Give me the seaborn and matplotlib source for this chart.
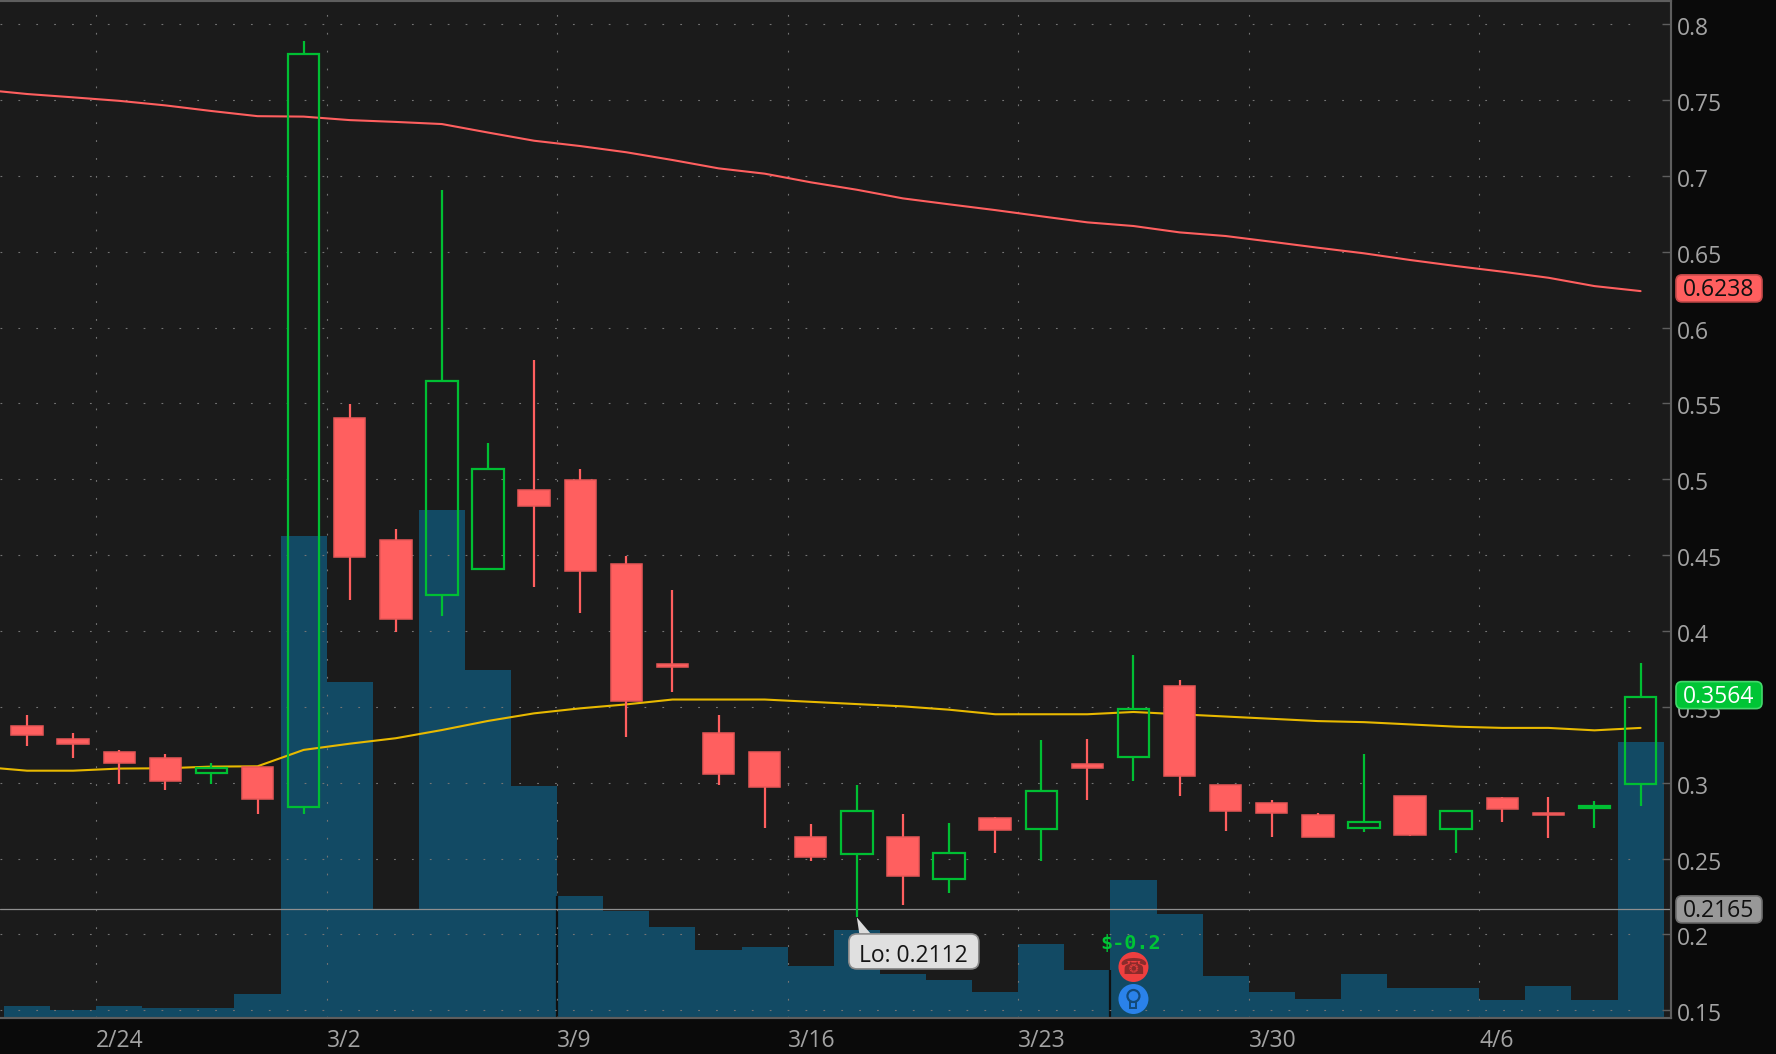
import numpy as np
import pandas as pd
import matplotlib
matplotlib.use("Agg")
import matplotlib.pyplot as plt
import seaborn as sns
from matplotlib.patches import Circle, FancyBboxPatch, Polygon, Rectangle
from matplotlib.transforms import IdentityTransform, ScaledTranslation

# daily candles
candle_up = [0, 0, 0, 0, 1, 0, 1, 0, 0, 1, 1, 0, 0, 0, 0, 0, 0, 0, 1, 0, 1, 0, 1, 0, 1, 0, 0, 0, 0, 1, 0, 1, 0, 0, 1, 1]
highs = [0.3446, 0.3330, 0.3215, 0.3189, 0.3132, 0.3104, 0.7890, 0.5496, 0.4672, 0.6906, 0.5239, 0.5786,
         0.5067, 0.4494, 0.4270, 0.3448, 0.3202, 0.2725, 0.2985, 0.2794, 0.2735, 0.2777, 0.3284, 0.3291,
         0.3844, 0.3680, 0.2985, 0.2889, 0.2800, 0.3189, 0.2913, 0.2814, 0.2903, 0.2908, 0.2882, 0.3791]
body_top = [0.3375, 0.3286, 0.3204, 0.3165, 0.3097, 0.3104, 0.7802, 0.5403, 0.4600, 0.5650, 0.5067, 0.4926,
            0.4995, 0.4441, 0.3784, 0.3328, 0.3202, 0.2642, 0.2814, 0.2642, 0.2537, 0.2767, 0.2948, 0.3120,
            0.3486, 0.3635, 0.2985, 0.2867, 0.2784, 0.2741, 0.2913, 0.2814, 0.2896, 0.2800, 0.2843, 0.3564]
body_bot = [0.3314, 0.3257, 0.3129, 0.3009, 0.3064, 0.2893, 0.2842, 0.4487, 0.4076, 0.4240, 0.4411, 0.4822,
            0.4395, 0.3538, 0.3762, 0.3060, 0.2972, 0.2508, 0.2531, 0.2388, 0.2366, 0.2689, 0.2695, 0.3097,
            0.3172, 0.3046, 0.2814, 0.2800, 0.2642, 0.2702, 0.2656, 0.2695, 0.2829, 0.2788, 0.2835, 0.2990]
lows = [0.3242, 0.3163, 0.2992, 0.2950, 0.2992, 0.2794, 0.2794, 0.4204, 0.3993, 0.4099, 0.4411, 0.4292,
        0.4118, 0.3301, 0.3598, 0.2985, 0.2702, 0.2484, 0.2112, 0.2194, 0.2276, 0.2537, 0.2484, 0.2889,
        0.3008, 0.2912, 0.2682, 0.2642, 0.2642, 0.2672, 0.2650, 0.2537, 0.2739, 0.2636, 0.2702, 0.2847]
# volume, thousands of shares
volume = [120, 80, 120, 100, 100, 240, 4820, 3360, 1080, 5080, 3480, 2320, 1220, 1070, 915, 680, 710, 520,
          880, 440, 380, 260, 740, 480, 1380, 1040, 420, 260, 190, 440, 300, 300, 180, 320, 180, 2760]
# moving averages, first value belongs to the day before the first candle
ma_long = [0.7569, 0.7539, 0.7517, 0.7494, 0.7464, 0.7427, 0.7393, 0.7390, 0.7367, 0.7355, 0.7341, 0.7285,
           0.7231, 0.7196, 0.7155, 0.7104, 0.7049, 0.7014, 0.6957, 0.6908, 0.6851, 0.6812, 0.6774, 0.6733,
           0.6693, 0.6669, 0.6627, 0.6603, 0.6565, 0.6526, 0.6489, 0.6445, 0.6405, 0.6368, 0.6328, 0.6273, 0.6240]
ma_short = [0.3105, 0.3079, 0.3079, 0.3093, 0.3095, 0.3106, 0.3108, 0.3216, 0.3257, 0.3293, 0.3347, 0.3407,
            0.3457, 0.3490, 0.3516, 0.3548, 0.3548, 0.3548, 0.3533, 0.3518, 0.3503, 0.3481, 0.3451, 0.3451,
            0.3451, 0.3466, 0.3451, 0.3436, 0.3421, 0.3406, 0.3399, 0.3384, 0.3369, 0.3361, 0.3361, 0.3345, 0.3361]
date_ticks = [1.5, 6.5, 11.5, 16.5, 21.5, 26.5, 31.5]
date_labels = ["2/24", "3/2", "3/9", "3/16", "3/23", "3/30", "4/6"]
price_ticks = [0.15, 0.2, 0.25, 0.3, 0.35, 0.4, 0.45, 0.5, 0.55, 0.6, 0.65, 0.7, 0.75, 0.8]
price_labels = ["0.15", "0.2", "0.25", "0.3", "0.35", "0.4", "0.45", "0.5", "0.55", "0.6", "0.65", "0.7", "0.75", "0.8"]
session_breaks = [11.49, 23.5]
last_close = 0.3564
last_ma = 0.6238
cursor_price = 0.2165
low_index = 18
marker_index = 24

WIDTH, HEIGHT = 1776, 1054
RED = "#ff5f5f"
GREEN = "#00bf33"
YELLOW = "#e8b900"
BLUE = "#124a64"
PANEL = "#1b1b1b"
BACK = "#0a0a0a"
AXIS = "#5e5e5e"
LABEL = "#a3a3a3"
FONT = 16.5

sns.set_theme(style="dark")
plt.rcParams["font.family"] = ["Open Sans", "DejaVu Sans"]

days = np.arange(len(highs))
candles = pd.DataFrame({"day": days, "high": highs, "top": body_top, "bottom": body_bot, "low": lows, "up": candle_up, "volume": volume})
up = candles[candles["up"] == 1]
down = candles[candles["up"] == 0]
ma_days = np.arange(-1, len(highs))

fig = plt.figure(figsize=(WIDTH / 100, HEIGHT / 100), dpi=100, facecolor=BACK)
axVol = fig.add_axes([0, (HEIGHT - 1018) / HEIGHT, 1671 / WIDTH, 1017 / HEIGHT])
ax = axVol.twinx()
axVol.set_facecolor(PANEL)
ax.patch.set_visible(False)

# volume sits behind everything, on its own hidden scale
sns.barplot(data=candles, x="day", y="volume", native_scale=True, width=1.0, color=BLUE, saturation=1, linewidth=0, ax=axVol)
depth = np.minimum(np.array(volume)[np.floor(session_breaks).astype(int)], np.array(volume)[np.ceil(session_breaks).astype(int)])
axVol.vlines(session_breaks, 0, depth, color="#101010", linewidth=1.6)
axVol.set_ylim(0, 10170)
axVol.set_xlim(-0.586, 35.66)
axVol.set_xlabel("")
axVol.set_ylabel("")
axVol.set_yticks([])
axVol.set_xticks(date_ticks)
axVol.set_xticklabels(date_labels, ha="left", fontsize=FONT, color=LABEL)
axVol.tick_params(axis="x", direction="in", length=6.5, width=0.8, color=AXIS, pad=8)

ax.set_ylim(0.1449, 0.8152)
ax.set_yticks(price_ticks)
ax.set_yticklabels(price_labels, fontsize=FONT, color=LABEL)
ax.tick_params(axis="y", direction="in", length=6.5, width=1.0, color=AXIS, pad=4, right=True, left=False, labelright=True, labelleft=False)
# price labels sit a touch under their tick
for lab in ax.get_yticklabels():
    lab.set_transform(lab.get_transform() + ScaledTranslation(0, -2 / 100, fig.dpi_scale_trans))
for a in [ax, axVol]:
    a.grid(False)
    for side in ["left", "right", "top", "bottom"]:
        a.spines[side].set_color(AXIS)
        a.spines[side].set_linewidth(1.5)
    a.spines["left"].set_visible(False)

# dotted price and date grid
dots = (0, (1.6, 14.5))
ax.hlines(price_ticks, -0.586, days[-1], color="#747474", linewidth=0.8, linestyles=[dots], zorder=1)
ax.vlines(date_ticks, 0.1449, 0.8152, color="#747474", linewidth=0.8, linestyles=[dots], zorder=1)
ax.axhline(cursor_price, color="#8f8f8f", linewidth=0.9, zorder=2)

sns.lineplot(x=ma_days, y=ma_long, color=RED, linewidth=1.5, ax=ax, zorder=3, errorbar=None)
sns.lineplot(x=ma_days, y=ma_short, color=YELLOW, linewidth=1.5, ax=ax, zorder=3, errorbar=None)
ax.set_xlim(-0.586, 35.66)
ax.set_ylim(0.1449, 0.8152)
ax.set_xlabel("")
ax.set_ylabel("")

# wicks stop at the body so the hollow candles stay empty
for part, color in [(up, GREEN), (down, RED)]:
    ax.vlines(part["day"], part["top"], part["high"], color=color, linewidth=1.6, zorder=4)
    ax.vlines(part["day"], part["low"], part["bottom"], color=color, linewidth=1.6, zorder=4)
ax.bar(up["day"], up["top"] - up["bottom"], bottom=up["bottom"], width=0.68, facecolor="none", edgecolor=GREEN, linewidth=1.6, zorder=5)
ax.bar(down["day"], down["top"] - down["bottom"], bottom=down["bottom"], width=0.68, facecolor=RED, edgecolor="#e85656", linewidth=1.1, zorder=5)

fig.canvas.draw()
px = IdentityTransform()


def rowY(price):
    return ax.transData.transform((0, price))[1]


def badge(x0, x1, yc, h, face, edge, text, textColor, rounding=6, textDrop=2):
    box = FancyBboxPatch((x0 + rounding, yc - h / 2 + rounding), x1 - x0 - 2 * rounding, h - 2 * rounding,
                         boxstyle="round,pad=%d,rounding_size=%d" % (rounding, rounding),
                         facecolor=face, edgecolor=edge, linewidth=1.2, transform=px, zorder=10)
    fig.add_artist(box)
    fig.text((x0 + x1) / 2, yc - textDrop, text, transform=px, color=textColor, fontsize=FONT, ha="center", va="center", zorder=11)


badge(1676, 1762, rowY(last_ma) + 3, 27, RED, "#c64a4a", "0.6238", "#101010")
badge(1676, 1762, rowY(last_close) + 2, 27, "#00c535", "#45d76c", "0.3564", "#ffffff")
badge(1676, 1762, rowY(cursor_price), 27, "#989898", "#6e6e6e", "0.2165", "#101010")

# tooltip on the lowest low
tipX, tipY = ax.transData.transform((low_index, lows[low_index]))
fig.add_artist(Polygon([(tipX, tipY), (tipX + 3, tipY - 20), (tipX + 17, tipY - 20)], closed=True, facecolor="#dcdcdc", edgecolor="none", transform=px, zorder=10))
badge(tipX - 8, tipX + 122, tipY - 34, 35, "#e0e0e0", "#8a8a8a", "Lo: 0.2112", "#151515", rounding=8, textDrop=5)

# earnings markers under the same day
iconX = ax.transData.transform((marker_index, 0))[0]
fig.text(iconX - 3, HEIGHT - 943, "$-0.2", transform=px, color="#00c535", fontsize=14.5, fontweight="bold", family="DejaVu Sans Mono", ha="center", va="center", zorder=11)
fig.add_artist(Circle((iconX, HEIGHT - 967), 15, facecolor="#ee3f3f", edgecolor="none", transform=px, zorder=10))
fig.text(iconX, HEIGHT - 967.5, "\u260e", transform=px, color="#8b2b2b", fontsize=16, family="DejaVu Sans", ha="center", va="center", zorder=11)
fig.add_artist(Circle((iconX, HEIGHT - 999), 15, facecolor="#2a82ea", edgecolor="none", transform=px, zorder=10))
fig.add_artist(Circle((iconX, HEIGHT - 996), 6, facecolor="none", edgecolor="#124a7a", linewidth=1.6, transform=px, zorder=11))
fig.add_artist(Rectangle((iconX - 3, HEIGHT - 1008), 6, 6, facecolor="none", edgecolor="#124a7a", linewidth=1.4, transform=px, zorder=11))

plt.savefig("out.png", dpi=100, facecolor=BACK)
